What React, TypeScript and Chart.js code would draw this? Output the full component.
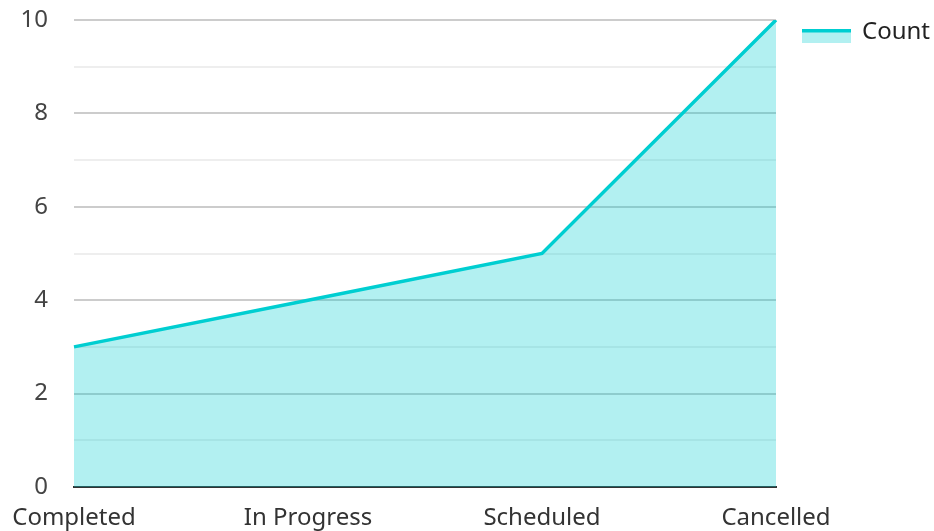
import React, { useEffect, useRef } from "react";
import { Chart, registerables } from "chart.js";

Chart.register(...registerables);

const categories = ["Completed", "In Progress", "Scheduled", "Cancelled"];
const counts = [3, 4, 5, 10];
const seriesName = "Count";
const yMin = 0;
const yMax = 10;

const LINE = "#00CED1";
const FILL = "rgba(0, 206, 209, 0.3)";
const FONT = "'Noto Sans', 'Open Sans', sans-serif";

const legendPlugin = {
  id: "customLegend",
  afterDraw(chart: any) {
    const ctx = chart.ctx;
    const x = chart.chartArea.right + 26;
    const y = 29;
    ctx.save();
    ctx.fillStyle = FILL;
    ctx.fillRect(x, y, 49, 14);
    ctx.strokeStyle = LINE;
    ctx.lineWidth = 3.5;
    ctx.beginPath();
    ctx.moveTo(x, y + 1.75);
    ctx.lineTo(x + 49, y + 1.75);
    ctx.stroke();
    ctx.fillStyle = "#222";
    ctx.font = `24px ${FONT}`;
    ctx.textBaseline = "middle";
    ctx.textAlign = "left";
    ctx.fillText(seriesName, x + 60, 32);
    ctx.restore();
  },
};

export default function App() {
  const ref = useRef<HTMLCanvasElement | null>(null);
  useEffect(() => {
    document.body.style.margin = "0";
    const chart = new Chart(ref.current as HTMLCanvasElement, {
      type: "line",
      data: {
        labels: categories,
        datasets: [
          {
            label: seriesName,
            data: counts,
            borderColor: LINE,
            backgroundColor: FILL,
            borderWidth: 3.5,
            fill: "origin",
            pointRadius: 0,
            pointHoverRadius: 0,
            tension: 0,
          },
        ],
      },
      options: {
        animation: false,
        responsive: false,
        maintainAspectRatio: false,
        layout: { padding: { left: 0, right: 158, top: 0, bottom: 0 } },
        plugins: { legend: { display: false }, tooltip: { enabled: false } },
        scales: {
          x: {
            offset: false,
            grid: { display: false, drawTicks: false },
            border: { display: true, color: "#333", width: 2 },
            ticks: {
              color: "#333",
              font: { family: FONT, size: 24 },
              padding: 17,
              maxRotation: 0,
              autoSkip: false,
            },
            afterFit: (s: any) => {
              s.height = 44;
              s.paddingLeft = 0;
              s.paddingRight = 0;
            },
          },
          y: {
            min: yMin,
            max: yMax,
            grid: {
              drawTicks: false,
              lineWidth: 2,
              color: (c: any) =>
                c.tick && c.tick.value % 2 === 0 ? "#cccccc" : "#eeeeee",
            },
            border: { display: false },
            ticks: {
              stepSize: 1,
              color: "#444",
              font: { family: FONT, size: 24 },
              padding: 26,
              callback: (v: any) => (Number(v) % 2 === 0 ? String(v) : ""),
            },
            afterFit: (s: any) => {
              s.width = 74;
              s.paddingTop = 20;
              s.paddingBottom = 0;
            },
          },
        },
      },
      plugins: [legendPlugin],
    } as any);
    return () => chart.destroy();
  }, []);
  return (
    <div style={{ width: 934, height: 531 }}>
      <canvas ref={ref} width={934} height={531} style={{ display: "block" }} />
    </div>
  );
}
